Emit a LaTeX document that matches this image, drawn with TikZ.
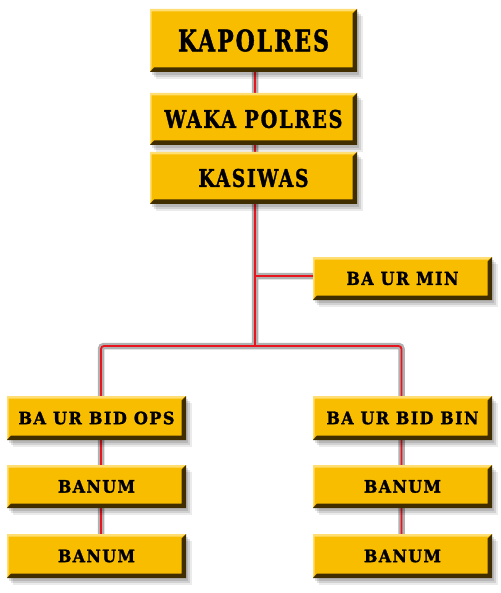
\documentclass[tikz,border=0pt]{standalone}
\usepackage{fontspec}
\setmainfont{DejaVu Serif}
\newfontfamily\lblfont[LetterSpace=9, FakeBold=1.6]{DejaVu Serif Bold}
\usepackage{graphicx}
\definecolor{boxfill}{RGB}{249,189,0}
\definecolor{boxlight}{RGB}{255,222,115}
\definecolor{boxdark}{RGB}{64,46,0}
\definecolor{conngray}{RGB}{176,176,176}
\definecolor{connred}{RGB}{232,20,30}
\newcommand{\lbl}[3]{\resizebox{#1pt}{#2pt}{\lblfont #3}}
\tikzset{
  orgbox/.style 2 args={rectangle, inner sep=0pt, minimum width=#1pt, minimum height=#2pt, fill=boxfill,
    preaction={fill=black, opacity=0.12, transform canvas={shift={(2pt,-3pt)}}},
    preaction={fill=black, opacity=0.11, transform canvas={shift={(4pt,-5pt)}}},
    preaction={fill=black, opacity=0.08, transform canvas={shift={(6pt,-7pt)}}},
    path picture={
      \fill[boxlight] (path picture bounding box.north west) -- (path picture bounding box.north east)
        -- ([shift={(-4pt,-2.5pt)}]path picture bounding box.north east)
        -- ([shift={(1.5pt,-2.5pt)}]path picture bounding box.north west)
        -- ([shift={(1.5pt,4pt)}]path picture bounding box.south west)
        -- (path picture bounding box.south west) -- cycle;
      \fill[boxdark] (path picture bounding box.south west) -- (path picture bounding box.south east)
        -- (path picture bounding box.north east)
        -- ([shift={(-4.5pt,-4.5pt)}]path picture bounding box.north east)
        -- ([shift={(-4.5pt,4.5pt)}]path picture bounding box.south east)
        -- ([shift={(4pt,4.5pt)}]path picture bounding box.south west) -- cycle;
    }},
  conn/.style={draw=conngray, line width=6.5pt, postaction={draw=connred, line width=1.8pt}},
}
\begin{document}
\begin{tikzpicture}[x=1pt,y=-1pt]
\useasboundingbox (0,0) rectangle (500,593);
\fill[white] (0,0) rectangle (500,593);
% connector coordinates
\coordinate (vtop) at (255,40.5);
\coordinate (jn) at (255,346);
\coordinate (mj) at (255,276);
\coordinate (lj) at (101,346);
\coordinate (rj) at (401.5,346);
\coordinate (minw) at (313,276);
\coordinate (lbot) at (101,556);
\coordinate (rbot) at (401.5,556);
\draw[conn] (vtop) -- (jn) (mj) -- (minw)
  [rounded corners=3pt] (lbot) -- (lj) -- (rj) -- (rbot);
% boxes
\node[orgbox={207}{63}] (kap) at (253.5,40.5) {\lbl{151}{22}{KAPOLRES}};
\node[orgbox={207}{52}] (waka) at (253.5,119) {\lbl{178}{18}{WAKA POLRES}};
\node[orgbox={207}{52}] (kas) at (253.5,178) {\lbl{110}{18}{KASIWAS}};
\node[orgbox={179}{43}] (min) at (402.5,278.5) {\lbl{112}{13}{BA UR MIN}};
\node[orgbox={179}{44}] (ops) at (96.5,418) {\lbl{156}{12.6}{BA UR BID OPS}};
\node[orgbox={179}{44}] (bin) at (402.5,418) {\lbl{152}{12.6}{BA UR BID BIN}};
\node[orgbox={179}{43}] (b1) at (96.5,486.5) {\lbl{77}{12.5}{BANUM}};
\node[orgbox={179}{44}] (b2) at (96.5,556) {\lbl{77}{12.5}{BANUM}};
\node[orgbox={179}{43}] (b3) at (402.5,486.5) {\lbl{77}{12.5}{BANUM}};
\node[orgbox={179}{44}] (b4) at (402.5,556) {\lbl{77}{12.5}{BANUM}};
\end{tikzpicture}
\end{document}
